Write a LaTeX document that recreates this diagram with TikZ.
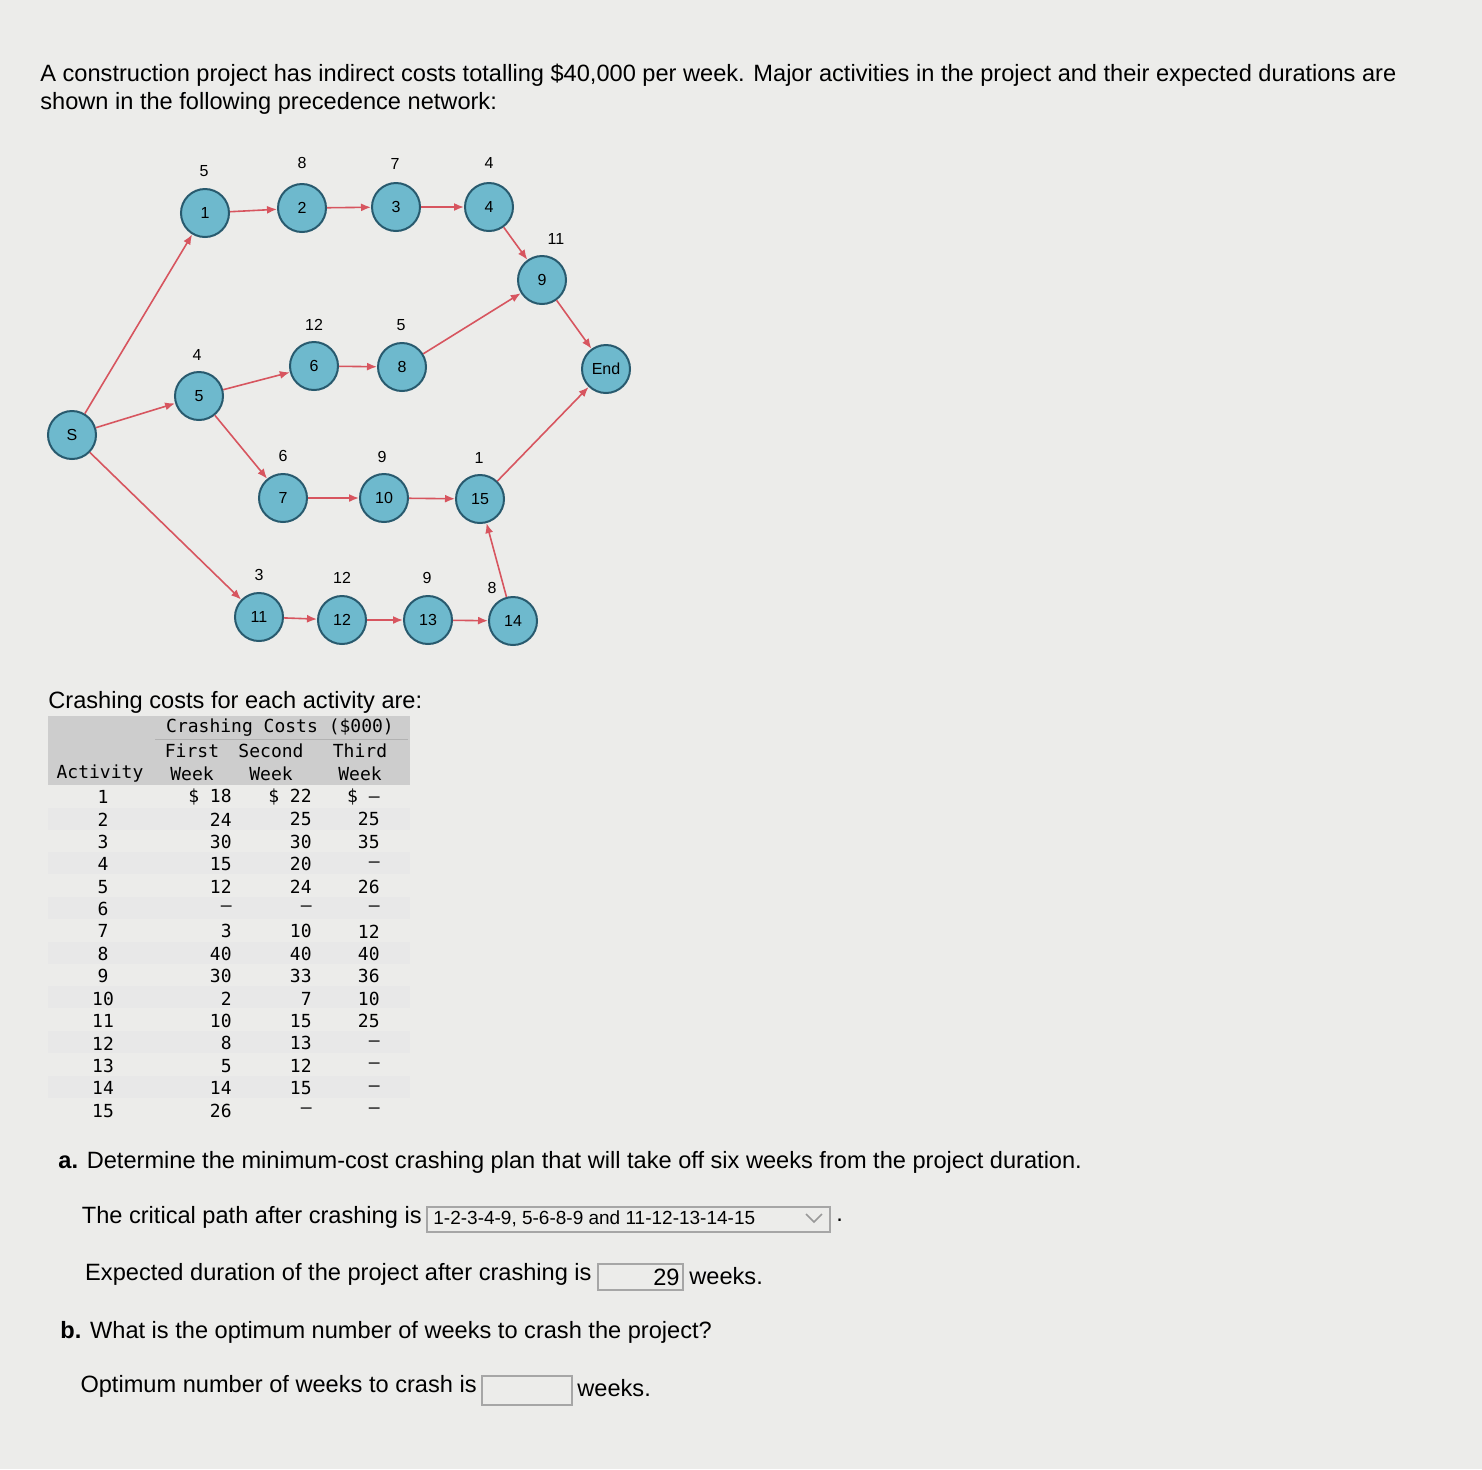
\documentclass[tikz,border=0pt]{standalone}
\usepackage{fontspec}
\setmainfont{Liberation Sans}
\setmonofont{DejaVu Sans Mono}
\usetikzlibrary{arrows.meta}
\definecolor{nodefill}{RGB}{110,185,205}
\definecolor{nodeline}{RGB}{40,90,110}
\definecolor{edgecol}{RGB}{215,85,95}
\definecolor{bg}{RGB}{236,236,234}
\definecolor{hdr}{RGB}{205,205,205}
\begin{document}
\begin{tikzpicture}[x=0.5pt,y=-0.5pt,
  nd/.style={circle,draw=nodeline,fill=nodefill,line width=1pt,minimum size=24pt,inner sep=0pt,font=\fontsize{8}{9}\selectfont},
  ed/.style={draw=edgecol,line width=0.8pt,-{Latex[length=5pt,width=4pt]}},
  dl/.style={font=\fontsize{8}{9}\selectfont},
  txt/.style={font=\fontsize{11.8}{13}\selectfont,anchor=west,inner sep=0pt},
  tb/.style={font=\ttfamily\fontsize{9}{10}\selectfont,inner sep=0pt},
  fbox/.style={draw=gray!70,line width=0.6pt}]
\fill[bg] (0,0) rectangle (1482,1469);
\node[txt] (t1) at (40,75) {A construction project has indirect costs totalling \$40,000 per week. Major activities in the project and their expected durations are};
\node[txt] (t2) at (40,103) {shown in the following precedence network:};
\foreach \n/\x/\y/\l in {S/72/435/S,n1/205/213/1,n2/302/208/2,n3/396/207/3,n4/489/207/4,n9/542/280/9,n5/199/396/5,n6/314/366/6,n8/402/367/8,n7/283/498/7,n10/384/498/10,n15/480/499/15,n11/259/617/11,n12/342/620/12,n13/428/620/13,n14/513/621/14}
  \node[nd] (\n) at (\x,\y) {\l};
\node[nd] (End) at (606,369) {End};
\foreach \a/\b in {S/n1,S/n5,S/n11,n1/n2,n2/n3,n3/n4,n4/n9,n9/End,n5/n6,n6/n8,n8/n9,n5/n7,n7/n10,n10/n15,n15/End,n11/n12,n12/n13,n13/n14,n14/n15}
  \draw[ed] (\a) -- (\b);
\foreach \x/\y/\l [count=\i] in {204/171/5,302/163/8,395/164/7,489/163/4,556/239/11,197/355/4,314/325/12,401/325/5,283/456/6,382/457/9,479/458/1,259/575/3,342/578/12,427/578/9,492/588/8}
  \node[dl] (d\i) at (\x,\y) {\l};
\node[txt] (ct) at (48,702) {Crashing costs for each activity are:};
\fill[hdr] (48,716) rectangle (410,785);
\foreach \y in {808,852,897,942,986,1031,1076} \fill[gray!18] (48,\y) rectangle (410,\y+22);
\draw[gray!60] (155,739) -- (408,739);
\node[tb] (h1) at (280,728) {Crashing Costs (\$000)};
\node[tb] (h2) at (192,751) {First};
\node[tb] (h3) at (271,751) {Second};
\node[tb] (h4) at (360,751) {Third};
\node[tb] (h5) at (100,774) {Activity};
\node[tb] (h6) at (192,774) {Week};
\node[tb] (h7) at (271,774) {Week};
\node[tb] (h8) at (360,774) {Week};
\foreach \a/\f/\s/\t [count=\i] in {1/\$ 18/\$ 22/\$ –,2/24/25/25,3/30/30/35,4/15/20/–,5/12/24/26,6/–/–/–,7/3/10/12,8/40/40/40,9/30/33/36,10/2/7/10,11/10/15/25,12/8/13/–,13/5/12/–,14/14/15/–,15/26/–/–}{
  \pgfmathsetmacro\yy{797+22.4*(\i-1)}
  \node[tb] (a\i) at (103,\yy) {\a};
  \node[tb,anchor=east] (f\i) at (232,\yy) {\f};
  \node[tb,anchor=east] (s\i) at (312,\yy) {\s};
  \node[tb,anchor=east] (r\i) at (380,\yy) {\t};
}
\node[txt] (qa) at (58,1162) {\textbf{a.} Determine the minimum-cost crashing plan that will take off six weeks from the project duration.};
\node[txt,anchor=east] (q1) at (422,1217) {The critical path after crashing is};
\draw[fbox] (427,1207) rectangle (830,1232);
\node[txt,font=\fontsize{9.5}{10}\selectfont] (cp) at (433,1219) {1-2-3-4-9, 5-6-8-9 and 11-12-13-14-15};
\draw[gray!80,line width=0.8pt] (806,1214) -- (814,1222) -- (822,1214);
\node[txt] (dot) at (836,1220) {.};
\node[txt,anchor=east] (q2) at (592,1274) {Expected duration of the project after crashing is};
\draw[fbox] (598,1264) rectangle (683,1290);
\node[txt,anchor=east] (v29) at (680,1277) {29};
\node[txt] (w1) at (689,1276) {weeks.};
\node[txt] (qb) at (60,1332) {\textbf{b.} What is the optimum number of weeks to crash the project?};
\node[txt,anchor=east] (q3) at (477,1386) {Optimum number of weeks to crash is};
\draw[fbox] (482,1376) rectangle (572,1405);
\node[txt] (w2) at (577,1388) {weeks.};
\end{tikzpicture}
\end{document}
